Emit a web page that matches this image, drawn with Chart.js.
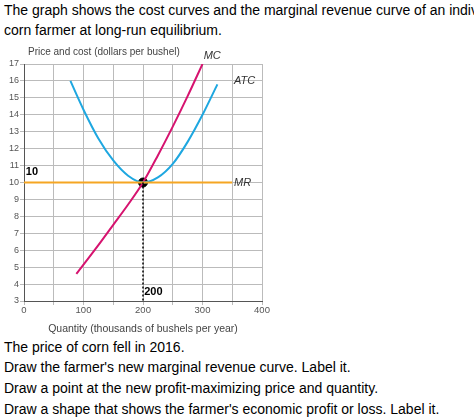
<!DOCTYPE html>
<html><head><meta charset="utf-8">
<script src="https://cdn.jsdelivr.net/npm/chart.js@4"></script>
<style>
body{margin:0;background:#fff;font-family:"Liberation Sans",Arial,sans-serif;font-size:14px;color:#000;width:474px;height:420px;position:relative;overflow:hidden}
.t{position:absolute;left:4px;white-space:nowrap}
#wrap{position:absolute;left:0;top:45px;width:290px;height:290px}
</style></head><body>
<div class="t" style="top:2px">The graph shows the cost curves and the marginal revenue curve of an individual</div>
<div class="t" style="top:22px">corn farmer at long-run equilibrium.</div>
<div id="wrap"><canvas id="c"></canvas></div>
<div class="t" style="top:339px">The price of corn fell in 2016.</div>
<div class="t" style="top:359px">Draw the farmer's new marginal revenue curve. Label it.</div>
<div class="t" style="top:380px">Draw a point at the new profit-maximizing price and quantity.</div>
<div class="t" style="top:401px">Draw a shape that shows the farmer's economic profit or loss. Label it.</div>
<script>
const atcQ = [78, 100, 125, 150, 175, 200, 225, 250, 275, 300, 325];
const atcP = [16, 14.3, 12.6, 11.3, 10.4, 10, 10.3, 11.1, 12.4, 14.0, 15.8];
const mcQ = [88, 125, 150, 175, 200, 225, 250, 275, 300];
const mcP = [4.6, 6.3, 7.5, 8.7, 10, 11.6, 13.3, 15.1, 17];
const mrQ = [0, 350];
const mrP = [10, 10];
const eqQ = 200, eqP = 10;
const xTicks = [0, 100, 200, 300, 400];

const pts = (q, p) => q.map((v, i) => ({x: v, y: p[i]}));

const labels = {
  id: 'labels',
  afterDatasetsDraw(chart) {
    const {ctx, scales: {x, y}} = chart;
    ctx.save();
    ctx.fillStyle = '#000';
    ctx.font = 'bold 11px Arial, "Liberation Sans"';
    ctx.textBaseline = 'middle';
    ctx.fillText('10', x.getPixelForValue(3), y.getPixelForValue(10.6));
    ctx.fillText('200', x.getPixelForValue(202), y.getPixelForValue(3.55));
    ctx.font = 'italic 11px Arial, "Liberation Sans"';
    ctx.fillStyle = '#333';
    ctx.fillText('MC', x.getPixelForValue(302), y.getPixelForValue(17.5));
    ctx.fillText('ATC', x.getPixelForValue(353), y.getPixelForValue(16));
    ctx.fillText('MR', x.getPixelForValue(353), y.getPixelForValue(10));
    ctx.font = '10px Arial, "Liberation Sans"';
    ctx.fillStyle = '#444';
    ctx.fillText('Price and cost (dollars per bushel)', 28, 7);
    ctx.restore();
  }
};

new Chart(document.getElementById('c'), {
  type: 'scatter',
  data: {
    datasets: [
      {data: [{x: eqQ, y: eqP}, {x: eqQ, y: 3}], showLine: true, borderColor: '#000', borderWidth: 1.5, borderDash: [2, 2], pointRadius: 0},
      {data: pts(mrQ, mrP), showLine: true, borderColor: '#f5a623', borderWidth: 2, pointRadius: 0},
      {data: pts(atcQ, atcP), showLine: true, borderColor: '#1ea7e0', borderWidth: 2, pointRadius: 0, cubicInterpolationMode: 'monotone'},
      {data: pts(mcQ, mcP), showLine: true, borderColor: '#d6136f', borderWidth: 2, pointRadius: 0, cubicInterpolationMode: 'monotone'},
      {data: [{x: eqQ, y: eqP}], borderColor: '#000', backgroundColor: '#000', pointRadius: 4.5}
    ]
  },
  options: {
    responsive: true, maintainAspectRatio: false, animation: false,
    layout: {padding: {top: 19, right: 28}},
    plugins: {legend: {display: false}, tooltip: {enabled: false}},
    scales: {
      x: {
        type: 'linear', min: 0, max: 400,
        afterFit(s) { s.height = 34; },
        afterBuildTicks(s) { s.ticks = [0,50,100,150,200,250,300,350,400].map(v => ({value: v})); },
        grid: {color: '#bbb', drawTicks: true, tickLength: 4},
        border: {color: '#555'},
        ticks: {color: '#555', font: {size: 9.5, family: 'Arial'}, padding: 0, callback: v => xTicks.includes(v) ? v : ''},
        title: {display: true, text: 'Quantity (thousands of bushels per year)', color: '#444', font: {size: 10.5, family: 'Arial'}, padding: {top: -12, bottom: 0}}
      },
      y: {
        min: 3, max: 17,
        afterFit(s) { s.width = 24; },
        grid: {color: '#bbb', tickLength: 4},
        border: {color: '#555'},
        ticks: {stepSize: 1, color: '#555', font: {size: 9, family: 'Arial'}, padding: 1}
      }
    }
  },
  plugins: [labels]
});
</script>
</body></html>
